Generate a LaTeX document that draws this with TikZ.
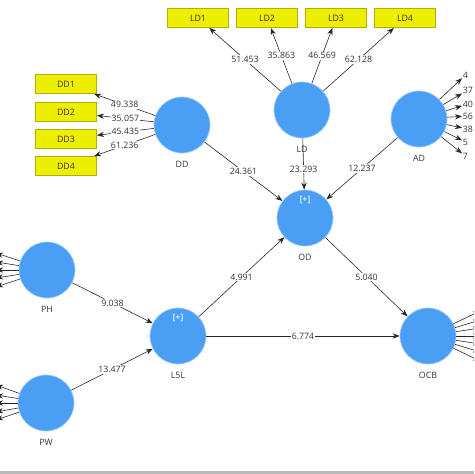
\documentclass[tikz,border=0pt]{standalone}
\usepackage{fontspec}
\setmainfont{Open Sans}
\usetikzlibrary{positioning,arrows.meta}
\definecolor{lvblue}{HTML}{4A9FF5}
\definecolor{lvedge}{HTML}{9CCBFF}
\definecolor{mvyellow}{HTML}{EEEE00}
\definecolor{mvedge}{HTML}{B0B000}
\definecolor{txtgray}{HTML}{333333}

\begin{document}
\begin{tikzpicture}[x=0.03cm, y=-0.03cm,
    lv/.style={circle, fill=lvblue, draw=lvedge, line width=0.6pt, minimum size=1.68cm, inner sep=0pt},
    mv/.style={rectangle, fill=mvyellow, draw=mvedge, line width=0.5pt, minimum width=1.84cm, minimum height=0.58cm, inner sep=0pt, font=\fontsize{7.5}{9}\selectfont, text=txtgray},
    arr/.style={draw=black!85, line width=0.5pt, -{Stealth[length=6pt,width=4.5pt]}},
    coef/.style={fill=white, inner sep=0.8pt, font=\fontsize{7.5}{9}\selectfont, text=txtgray},
    lvname/.style={font=\fontsize{7.5}{9}\selectfont, text=txtgray, label distance=3pt},
    plus/.style={font=\fontsize{7.5}{9}\selectfont\bfseries, text=cyan!20},
    stub/.style={anchor=west, inner sep=0.5pt, font=\fontsize{7.5}{9}\selectfont, text=txtgray}
  ]
  \useasboundingbox (0,0) rectangle (474,474);
  \clip (0,0) rectangle (474,474);

  % --- latent variables ---
  \node[lv, label={[lvname]below:DD}] (DD) at (182,125) {};
  \node[lv, label={[lvname]below:LD}] (LD) at (302,110) {};
  \node[lv, label={[lvname]below:AD}] (AD) at (419,119) {};
  \node[lv, label={[lvname]below:OD}] (OD) at (305,218) {};
  \node[lv, label={[lvname]below:PH}] (PH) at (47,270) {};
  \node[lv, label={[lvname]below:L5L}] (L5L) at (178,336) {};
  \node[lv, label={[lvname]below:OCB}] (OCB) at (428,336) {};
  \node[lv, label={[lvname]below:PW}] (PW) at (46,403) {};

  \node[plus] (ODplus) at (305,200) {[+]};
  \node[plus] (L5Lplus) at (178,318) {[+]};

  % --- indicators LD ---
  \node[mv] (LD1) at (198,18) {LD1};
  \node[mv] (LD2) at (267,18) {LD2};
  \node[mv] (LD3) at (336,18) {LD3};
  \node[mv] (LD4) at (405,18) {LD4};

  \draw[arr] (LD) -- node[coef] {51.453} (LD1);
  \draw[arr] (LD) -- node[coef] {35.863} (LD2);
  \draw[arr] (LD) -- node[coef] {46.569} (LD3);
  \draw[arr] (LD) -- node[coef] {62.128} (LD4);

  % --- indicators DD ---
  \node[mv] (DD1) at (66,84) {DD1};
  \node[mv] (DD2) at (66,112) {DD2};
  \node[mv] (DD3) at (66,139) {DD3};
  \node[mv] (DD4) at (66,166) {DD4};

  \draw[arr] (DD) -- node[coef] {49.338} (DD1);
  \draw[arr] (DD) -- node[coef] {35.057} (DD2);
  \draw[arr] (DD) -- node[coef] {45.435} (DD3);
  \draw[arr] (DD) -- node[coef] {61.236} (DD4);

  % --- indicators AD (cut by the frame) ---
  \foreach \y/\t [count=\i] in {75/4, 90/37, 104/40, 116/56, 129/38, 142/5, 156/7} {
    \node[stub] (ad\i) at (462,\y) {\t};
    \draw[arr] (AD) -- (ad\i);
  }

  % --- indicators PH, PW, OCB (cut by the frame) ---
  \foreach \y [count=\i] in {253,262,270,278,287} {
    \coordinate (ph\i) at (-4,\y);
    \draw[arr] (PH) -- (ph\i);
  }
  \foreach \y [count=\i] in {385,395,403,412,420} {
    \coordinate (pw\i) at (-4,\y);
    \draw[arr] (PW) -- (pw\i);
  }
  \foreach \y [count=\i] in {311,320,328,336,344,352,361} {
    \coordinate (ocb\i) at (480,\y);
    \draw[arr] (OCB) -- (ocb\i);
  }

  % --- structural paths ---
  \draw[arr] (DD) -- node[coef] {24.361} (OD);
  \draw[arr] (LD) -- node[coef, pos=0.6] {23.293} (OD);
  \draw[arr] (AD) -- node[coef] {12.237} (OD);
  \draw[arr] (L5L) -- node[coef] {4.991} (OD);
  \draw[arr] (OD) -- node[coef] {5.040} (OCB);
  \draw[arr] (L5L) -- node[coef] {6.774} (OCB);
  \draw[arr] (PH) -- node[coef] {9.038} (L5L);
  \draw[arr] (PW) -- node[coef] {13.477} (L5L);

  % bottom strip
  \fill[gray!55] (0,471) rectangle (474,474);
\end{tikzpicture}
\end{document}
